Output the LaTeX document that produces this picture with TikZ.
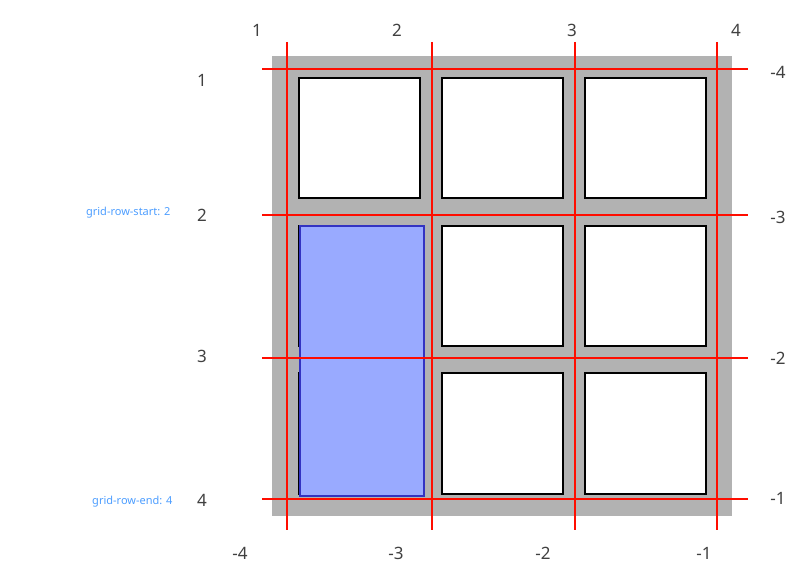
\documentclass[tikz,border=0pt]{standalone}
\usepackage{fontspec}
\setmainfont{Noto Sans}
\begin{document}
\begin{tikzpicture}[x=1pt,y=-1pt,
  num/.style={font=\bfseries\fontsize{17}{17}\selectfont, text=black!75},
  lab/.style={font=\fontsize{11}{11}\selectfont, text=blue!55!cyan!70!white, anchor=east},
  cell/.style={draw=black, line width=1.5pt, fill=white},
  red line/.style={draw=red!90!orange, line width=2.2pt}]
\useasboundingbox (0,0) rectangle (800,577);
\fill[black!30] (272,56) rectangle (732,516);
\foreach \x/\xx in {299/420,442/563,585/706}
  \foreach \y/\yy in {78/198,226/346,373/494}
    \draw[cell] (\x,\y) rectangle (\xx,\yy);
\draw[draw=blue!70!black!80, line width=1.8pt, fill={rgb,255:red,153;green,170;blue,255}] (300,226) rectangle (424,496);
\foreach \x in {287,432,575,717} \draw[red line] (\x,42) -- (\x,530);
\foreach \y in {69,215,358,499} \draw[red line] (262,\y) -- (748,\y);
\foreach \x/\t in {257/1,397/2,572/3,736/4} \node[num] (t\t) at (\x,30) {\t};
\foreach \y/\t in {80/1,215/2,356/3,500/4} \node[num] (l\t) at (202,\y) {\t};
\foreach \y/\t in {72/4,217/3,358/2,498/1} \node[num] (r\t) at (778,\y) {-\t};
\foreach \x/\t in {240/4,396/3,543/2,704/1} \node[num] (b\t) at (\x,553) {-\t};
\node[lab] (s) at (174,213) {grid-row-start: 2};
\node[lab] (e) at (176,502) {grid-row-end: 4};
\end{tikzpicture}
\end{document}
